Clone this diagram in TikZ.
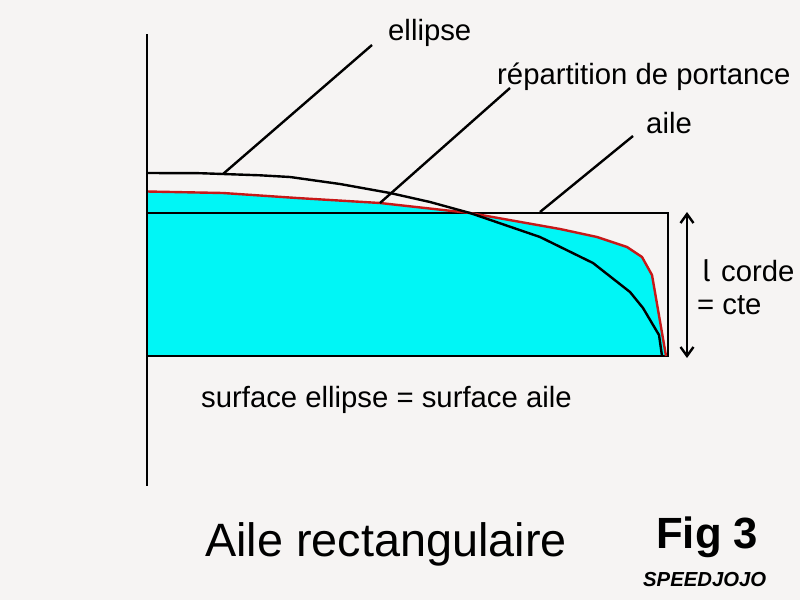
\documentclass[tikz,border=0pt]{standalone}
\usepackage{fontspec}
\setmainfont{Liberation Sans}
\newfontfamily\tailfont{Fira Sans}
\usepackage{tikz}
\usetikzlibrary{arrows.meta,backgrounds,positioning}
\definecolor{papier}{HTML}{F6F4F3}
\definecolor{portance}{HTML}{00F6F6}
\definecolor{rouge}{HTML}{C81818}
\tikzstyle{label}=[inner sep=0,anchor=base west,font=\fontsize{29.3}{32}\selectfont]
\tikzstyle{titre}=[inner sep=0,anchor=base west,font=\fontsize{46.8}{50}\selectfont]
\tikzstyle{trait}=[draw=black,line width=2.4pt]
\tikzstyle{courbe}=[line width=2.4pt,line join=round]

\begin{document}
\begin{tikzpicture}[x=1pt,y=-1pt]
		\useasboundingbox[fill=papier] (0,0) rectangle (800,600);
		% surface sous la repartition
		\fill[portance] (147,191.5) -- (223,193) -- (297,198) -- (380,203) -- (470,213) -- (560,229) -- (597,237) -- (627,247) -- (642,257) -- (652,275) -- (666,356) -- (147,356) -- cycle;
		% aile
		\draw[trait] (147,213) rectangle (668,356);
		\draw[courbe,rouge] (147,191.5) -- (223,193) -- (297,198) -- (380,203) -- (470,213) -- (560,229) -- (597,237) -- (627,247) -- (642,257) -- (652,275) -- (666,356);
		% ellipse
		\draw[courbe,black] (147,173) -- (200,173.2) -- (223,174) -- (260,175.3) -- (290,177) -- (340,184) -- (390,193) -- (430,202) -- (470,213) -- (540,237) -- (593,263) -- (630,292) -- (643,308) -- (659,335) -- (662,356);
		\draw[trait] (147,34) -- (147,486);
		
		\node[label]	(ellipse)	at (388,40)	{ellipse};
		\node[label]	(repart)	at (497,84)	{répartition de portance};
		\node[label]	(aile)		at (646,133)	{aile};
		\node[label]	(corde)		at (702,281)	{\makebox[19pt][l]{\tailfont l}corde};
		\node[label]	(cte)		at (697,314)	{= cte};
		\node[label]	(surface)	at (201,407)	{surface ellipse = surface aile};
		\node[titre]	(titre)		at (205,556)	{Aile rectangulaire};
		\node[inner sep=0,anchor=base west,font=\fontsize{43.7}{48}\selectfont\bfseries]	(fig)	at (656,548)	{Fig 3};
		\node[inner sep=0,anchor=base west,font=\fontsize{20.3}{24}\selectfont\bfseries\itshape]	(auteur)	at (643,586)	{SPEEDJOJO};
		
		\coordinate (ptellipse) at (223,174);
		\coordinate (ptrepart) at (380,203);
		\coordinate (ptaile) at (540,212);
		\coordinate (hautellipse) at (372,45);
		\coordinate (hautrepart) at (510,88);
		\coordinate (hautaile) at (633,136);
		\coordinate (hautcorde) at (687,212);
		\coordinate (bascorde) at (687,358);
		
		\draw[trait] (hautellipse) -- (ptellipse);
		\draw[trait] (hautrepart) -- (ptrepart);
		\draw[trait] (hautaile) -- (ptaile);
		\draw[trait,{Straight Barb[length=9pt,width=13pt]}-{Straight Barb[length=9pt,width=13pt]}] (hautcorde) -- (bascorde);
	\end{tikzpicture}
\end{document}
